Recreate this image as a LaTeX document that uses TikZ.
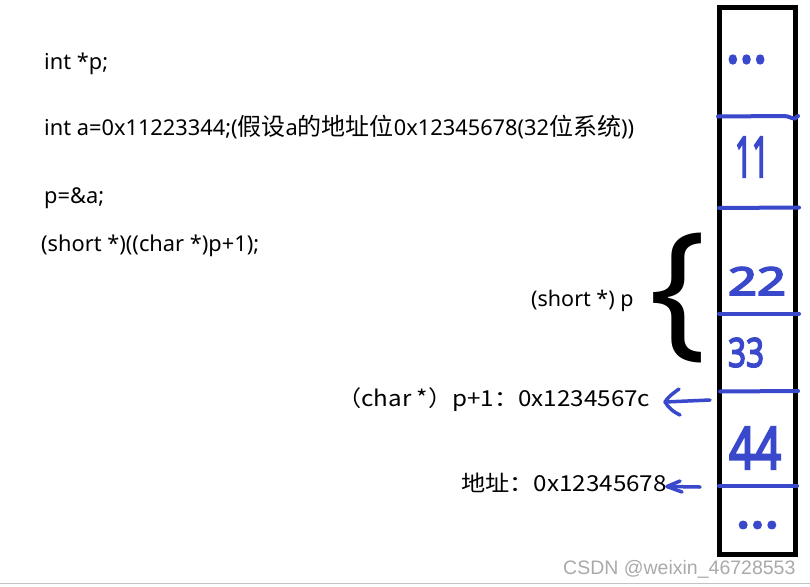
\documentclass[tikz,border=0pt]{standalone}
\usepackage{graphicx}
\usepackage{fontspec}
\setmainfont{Noto Sans}
\newfontfamily\cjk{Noto Sans CJK SC}
\newfontfamily\notewide[FakeStretch=1.1]{Noto Sans}
\newfontfamily\cjkwide[FakeStretch=1.1]{Noto Sans CJK SC}
\newfontfamily\handfont[FakeBold=4]{Noto Sans}
\newfontfamily\wmfont{Liberation Sans}
\newcommand\zhbig[1]{{\cjk\fontsize{24}{28}\selectfont #1}}
\definecolor{penblue}{RGB}{58,72,204}
\definecolor{wmgray}{RGB}{170,170,170}
\definecolor{rulegray}{RGB}{195,195,195}
\begin{document}
\begin{tikzpicture}[x=1pt,y=-1pt,
  code/.style={anchor=base west, inner sep=0pt, font=\fontsize{21.8}{26}\selectfont},
  note/.style={anchor=base west, inner sep=0pt, font=\notewide\fontsize{22}{26}\selectfont},
  pen/.style={draw=penblue, line width=4pt, line cap=round, line join=round},
  penarrow/.style={draw=penblue, line width=3.5pt, line cap=round, line join=round},
  hand/.style={text=penblue, inner sep=0pt, font=\handfont\fontsize{40}{44}\selectfont}]
\useasboundingbox (0,0) rectangle (810,586);
\fill[white] (0,0) rectangle (810,586);

% code lines
\node[code] (l1) at (44,69.5) {int *p;};
\node[code] (l2) at (44,135) {int a=0x11223344;(\zhbig{假设}a\zhbig{的地址位}0x12345678(32\zhbig{位系统}))};
\node[code] (l3) at (44,203.5) {p=\&a;};
\node[code] (l4) at (41,251.5) {(short *)((char *)p+1);};

% annotations
\node[anchor=base west, inner sep=0pt, font=\fontsize{21.5}{25}\selectfont] (sp) at (531,306) {(short *) p};
\node[note] (cp) at (337,406) {\cjkwide{（}char *\cjkwide{）}p+1\cjkwide{：}0x1234567c};
\node[note] (addr) at (461,491) {\cjkwide{地址：}0x12345678};

% brace
\node[inner sep=0pt, font=\fontsize{40}{44}\selectfont] (brace) at (678,298) {\resizebox*{!}{130pt}{\{}};

% memory box
\node[draw, line width=5pt, minimum width=76pt, minimum height=547pt, inner sep=0pt] (mem) at (757.5,281) {};

% separators
\draw[pen] (718,116.5) -- (784,116) .. controls (789,116) and (792,119) .. (795,118.5) -- (798,116);
\draw[pen] (719,208) -- (799,207.5);
\draw[pen] (719,313.5) -- (799,313.5);
\draw[pen] (720,391.5) -- (798,391);
\draw[pen] (719,486) -- (797,486);

% cell contents
\node[hand] (c0) at (746.5,59.5) {\resizebox{41pt}{7pt}{...}};
\node[hand] (c1) at (752,157) {\resizebox{34pt}{40pt}{11}};
\node[hand] (c2) at (757,281) {\resizebox{58pt}{28pt}{22}};
\node[hand] (c3) at (746,352.5) {\resizebox{36pt}{29pt}{33}};
\node[hand] (c4) at (755,448) {\resizebox{52pt}{42pt}{44}};
\node[hand] (c5) at (757.5,525) {\resizebox{43pt}{6pt}{...}};

% arrows
\coordinate (a1s) at (710,400);
\coordinate (a1e) at (665,402);
\draw[penarrow] (a1s) -- (a1e);
\draw[penarrow] (679,389) .. controls (672,394) and (667,398) .. (a1e) .. controls (668,407) and (673,412) .. (680,415);
\coordinate (a2s) at (700,487);
\coordinate (a2e) at (667,486.5);
\draw[penarrow] (a2s) -- (a2e);
\draw[penarrow] (680,481) -- (a2e) -- (682,492);

% watermark and bottom rule
\node[anchor=base west, inner sep=0pt, text=wmgray, font=\wmfont\fontsize{19.5}{22}\selectfont] (wm) at (563,574) {CSDN @weixin\_46728553};
\draw[rulegray, line width=1.5pt] (0,583.5) -- (810,583.5);
\end{tikzpicture}
\end{document}
